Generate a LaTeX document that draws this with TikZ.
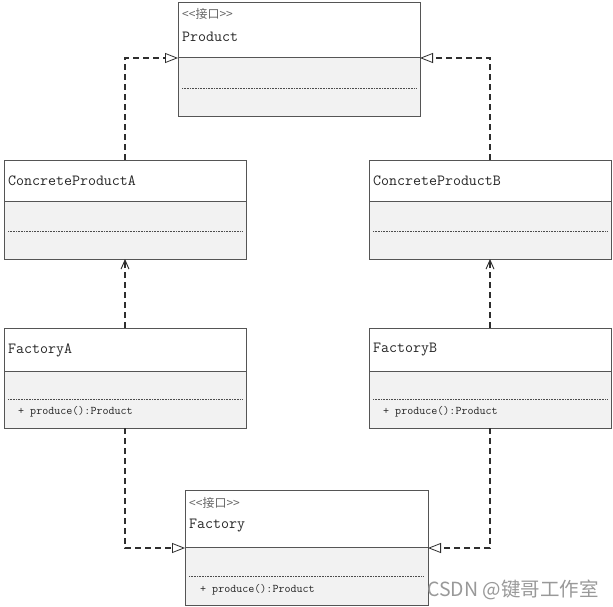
\documentclass[tikz,border=0pt]{standalone}
\usepackage{fontspec}
\newfontfamily\cjk{Noto Sans CJK SC}
\usetikzlibrary{arrows.meta,calc}
\definecolor{boxfill}{HTML}{F2F2F2}
\definecolor{boxline}{HTML}{555555}
\definecolor{linkcol}{HTML}{2E2E2E}
\tikzset{
  classbox/.style={draw=boxline, line width=0.9pt, inner sep=0pt, outer sep=0pt, anchor=north west},
  divider/.style={draw=boxline, line width=0.9pt},
  dotline/.style={draw=black!70, line width=0.6pt, dash pattern=on 0.8pt off 0.8pt},
  cname/.style={anchor=west, inner sep=0pt, font=\ttfamily\fontsize{15.5}{15.5}\selectfont, text=black!85},
  stereo/.style={anchor=west, inner sep=0pt, font=\cjk\fontsize{12}{12}\selectfont, text=black!60},
  meth/.style={anchor=west, inner sep=0pt, font=\ttfamily\fontsize{11.7}{11.7}\selectfont, text=black!85},
  realize/.style={draw=linkcol, line width=1.3pt, dash pattern=on 6pt off 4pt, -{Triangle[open, length=13pt, width=10pt, line width=0.8pt]}},
  depend/.style={draw=linkcol, line width=1.3pt, dash pattern=on 6pt off 4pt, -{Straight Barb[length=9pt, width=8pt, line width=0.9pt]}},
}
% name, x, y(top), width, height, divider offset, dotted offset
\newcommand\umlclass[7]{%
  \fill[boxfill] ($(#2,#3)+(0,#6)$) rectangle ($(#2,#3)+(#4,#5)$);
  \node[classbox, minimum width=#4pt, minimum height=#5pt] (#1) at (#2,#3) {};
  \draw[divider] ($(#1.north west)+(0,#6)$) -- ($(#1.north east)+(0,#6)$);
  \draw[dotline] ($(#1.north west)+(4,#7)$) -- ($(#1.north east)+(-4,#7)$);
}
\begin{document}
\begin{tikzpicture}[x=1pt, y=-1pt]
\useasboundingbox (0,0) rectangle (613,607);
\fill[white] (0,0) rectangle (613,607);

\umlclass{product}{178}{2}{242}{114}{55}{86}
\node[stereo] (pst) at (182,14) {<<接口>>};
\node[cname] (pname) at (182,37) {Product};

\umlclass{cpa}{4}{160}{242}{99}{41}{71}
\node[cname] (cpaname) at (8,181) {ConcreteProductA};
\umlclass{cpb}{369}{160}{242}{99}{41}{71}
\node[cname] (cpbname) at (373,181) {ConcreteProductB};

\umlclass{fa}{4}{328}{242}{100}{43}{71}
\node[cname] (faname) at (8,350) {FactoryA};
\node[meth] (fameth) at (18,412) {+ produce():Product};
\umlclass{fb}{369}{328}{242}{100}{43}{71}
\node[cname] (fbname) at (373,350) {FactoryB};
\node[meth] (fbmeth) at (383,412) {+ produce():Product};

\umlclass{fac}{185}{490}{243}{115}{57}{86}
\node[stereo] (fst) at (189,503) {<<接口>>};
\node[cname] (fname) at (189,526) {Factory};
\node[meth] (fmeth) at (200,590) {+ produce():Product};

\coordinate (pL) at ($(product.north west)+(0,56)$);
\coordinate (pR) at ($(product.north east)+(0,56)$);
\coordinate (fL) at ($(fac.north west)+(0,58)$);
\coordinate (fR) at ($(fac.north east)+(0,58)$);

\draw[realize] (cpa.north) |- (pL);
\draw[realize] (cpb.north) |- (pR);
\draw[depend] (fa.north) -- (cpa.south);
\draw[depend] (fb.north) -- (cpb.south);
\draw[realize] (fa.south) |- (fL);
\draw[realize] (fb.south) |- (fR);

\node[anchor=west, inner sep=0pt, font=\cjk\fontsize{19.5}{19.5}\selectfont, text=black!40] (wm) at (427,590) {CSDN @键哥工作室};
\end{tikzpicture}
\end{document}
